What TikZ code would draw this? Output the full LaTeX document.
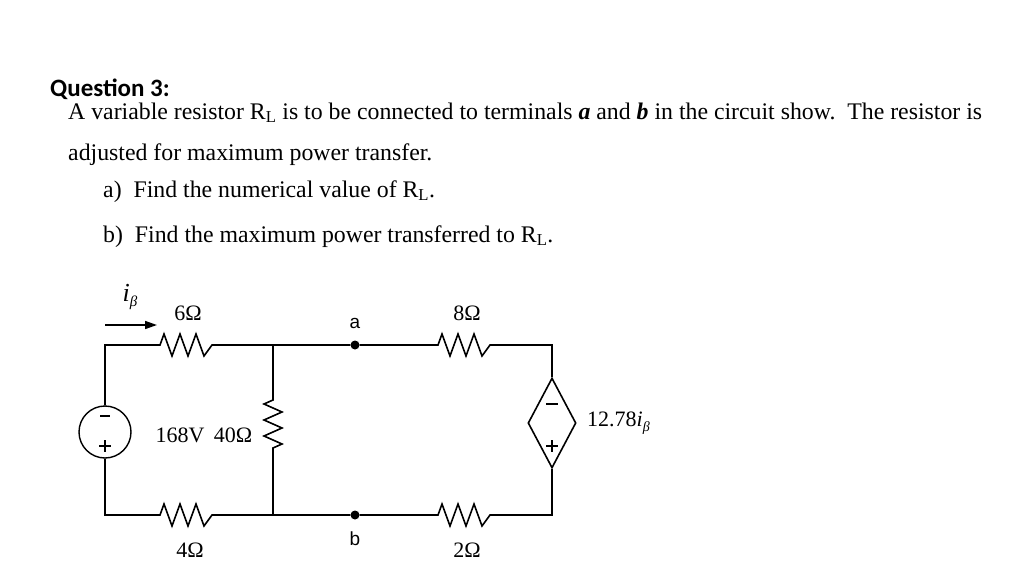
\documentclass[tikz,border=0pt]{standalone}
\usepackage{fontspec}
\setmainfont{Liberation Serif}
\newfontfamily\qfont{Carlito}
\newfontfamily\sfx{Liberation Sans}
\usetikzlibrary{shapes.geometric,arrows.meta}
\begin{document}
\begin{tikzpicture}[x=1pt,y=-1pt,
  txt/.style={anchor=base west,inner sep=0pt,font=\fontsize{23.8}{28}\selectfont},
  lbl/.style={inner sep=0pt,font=\fontsize{22}{26}\selectfont},
  term/.style={inner sep=0pt,font=\sfx\fontsize{19}{22}\selectfont},
  wire/.style={line width=1.6pt},
  dot/.style={circle,fill=black,inner sep=0pt,minimum size=9pt}]
\useasboundingbox (0,0) rectangle (1032,573);
\node[txt,font=\qfont\bfseries\fontsize{25}{28}\selectfont] (q) at (50,96) {Question 3:};
\node[txt] (l1) at (68,119) {A variable resistor R\textsubscript{L} is to be connected to terminals \textbf{\textit{a}} and \textbf{\textit{b}} in the circuit show.\ \ The resistor is};
\node[txt] (l2) at (68,160) {adjusted for maximum power transfer.};
\node[txt] (l3) at (103,197) {a)\ \ Find the numerical value of R\textsubscript{L}.};
\node[txt] (l4) at (103,242) {b)\ \ Find the maximum power transferred to R\textsubscript{L}.};
% nodes
\coordinate (tl) at (105,345); \coordinate (bl) at (105,515);
\coordinate (tj) at (273,345); \coordinate (bj) at (273,515);
\coordinate (tr) at (552,345); \coordinate (br) at (552,515);
\node[dot] (a) at (355,345) {}; \node[dot] (b) at (355,515) {};
\node[circle,draw,line width=1.4pt,minimum size=52pt,inner sep=0pt] (vs) at (105,432) {};
\node[diamond,draw,line width=1.6pt,minimum width=48pt,minimum height=90pt,inner sep=0pt] (ds) at (552,423) {};
% wires with resistors
\draw[wire] (vs.north) -- (tl) -- (160,345) -- ++(4,-11) -- ++(8,22) -- ++(8,-22) -- ++(8,22) -- ++(8,-22) -- ++(8,22) -- ++(8,-11) -- (tj) -- (a) -- (438,345) -- ++(4,-11) -- ++(8,22) -- ++(8,-22) -- ++(8,22) -- ++(8,-22) -- ++(8,22) -- ++(8,-11) -- (tr) -- (ds.north);
\draw[wire] (vs.south) -- (bl) -- (160,515) -- ++(4,-11) -- ++(8,22) -- ++(8,-22) -- ++(8,22) -- ++(8,-22) -- ++(8,22) -- ++(8,-11) -- (bj) -- (b) -- (438,515) -- ++(4,-11) -- ++(8,22) -- ++(8,-22) -- ++(8,22) -- ++(8,-22) -- ++(8,22) -- ++(8,-11) -- (br) -- (ds.south);
\draw[wire] (tj) -- (273,400) -- ++(-9,4) -- ++(18,8) -- ++(-18,8) -- ++(18,8) -- ++(-18,8) -- ++(18,8) -- ++(-9,4) -- (bj);
% signs
\draw[line width=1.4pt] (100,416) -- (110,416);
\draw[line width=1.4pt] (99,446) -- (111,446) (105,440) -- (105,452);
\draw[line width=1.6pt] (546,404) -- (558,404);
\draw[line width=1.4pt] (546,446) -- (558,446) (552,440) -- (552,452);
% current arrow
\coordinate (ia) at (105,325); \coordinate (ib) at (157,325);
\draw[line width=1.6pt,-{Triangle[length=12pt,width=8pt]}] (ia) -- (ib);
\node[lbl] (ibl) at (130,297) {\textit{\fontsize{26}{26}\selectfont i}\raisebox{-5pt}{\fontsize{15}{15}\selectfont\textit{β}}};
% labels
\node[lbl] (r6) at (188,313) {6Ω};
\node[lbl] (r8) at (467,313) {8Ω};
\node[lbl] (r4) at (190,550) {4Ω};
\node[lbl] (r2) at (467,550) {2Ω};
\node[lbl] (v) at (180,435) {168V};
\node[lbl] (r40) at (233,435) {40Ω};
\node[lbl,anchor=west] (dl) at (587,423) {12.78\textit{i}\raisebox{-5pt}{\fontsize{14}{14}\selectfont\textit{β}}};
\node[term] (la) at (355,323) {a};
\node[term] (lb) at (355,539) {b};
\end{tikzpicture}
\end{document}
